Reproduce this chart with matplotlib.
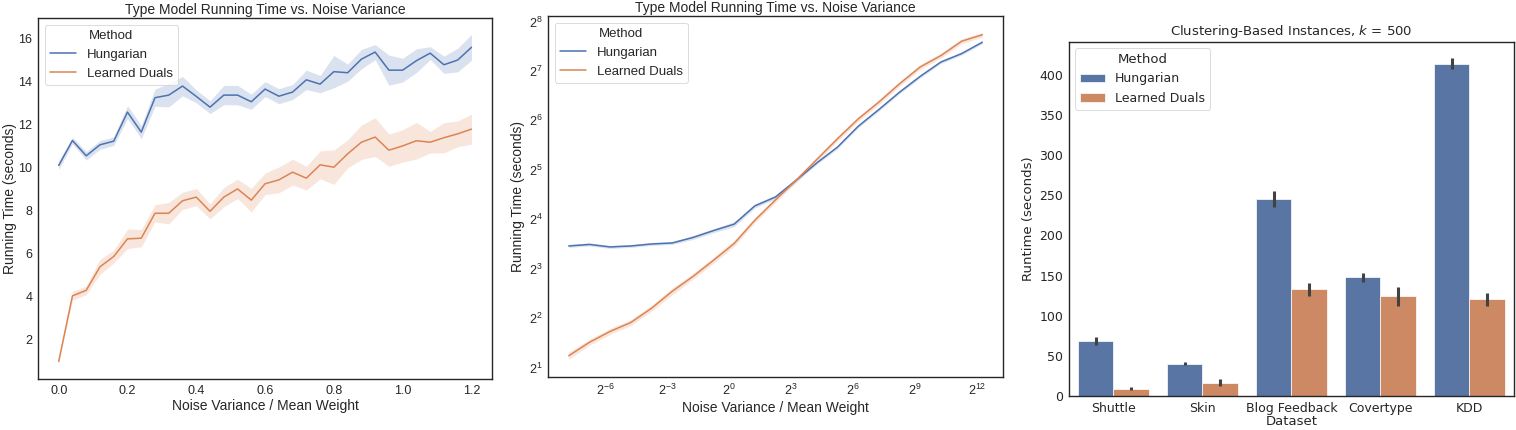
import numpy as np
import matplotlib
matplotlib.use("Agg")
import matplotlib.pyplot as plt
import seaborn as sns

# ---- panel 1: linear noise sweep ----
noise_lin = [0.00, 0.04, 0.08, 0.12, 0.16, 0.20, 0.24, 0.28, 0.32, 0.36, 0.40,
             0.44, 0.48, 0.52, 0.56, 0.60, 0.64, 0.68, 0.72, 0.76, 0.80, 0.84,
             0.88, 0.92, 0.96, 1.00, 1.04, 1.08, 1.12, 1.16, 1.20]
hung_lin = [10.11, 11.27, 10.56, 11.07, 11.24, 12.59, 11.66, 13.26, 13.38, 13.80, 13.32,
            12.82, 13.38, 13.38, 13.07, 13.66, 13.33, 13.52, 14.09, 13.89, 14.47, 14.42,
            15.05, 15.38, 14.54, 14.54, 14.98, 15.33, 14.79, 15.01, 15.60]
hung_lin_ci = [0.20, 0.15, 0.20, 0.20, 0.20, 0.30, 0.30, 0.40, 0.55, 0.45, 0.30,
               0.30, 0.45, 0.45, 0.35, 0.35, 0.35, 0.35, 0.45, 0.40, 0.75, 0.40,
               0.45, 0.35, 0.70, 0.55, 0.55, 0.30, 0.40, 0.55, 0.60]
dual_lin = [1.00, 4.05, 4.31, 5.40, 5.88, 6.70, 6.73, 7.89, 7.89, 8.47, 8.64,
            7.98, 8.64, 9.02, 8.50, 9.26, 9.44, 9.80, 9.52, 10.14, 10.03, 10.65,
            11.19, 11.43, 10.82, 11.02, 11.26, 11.19, 11.40, 11.58, 11.80]
dual_lin_ci = [0.05, 0.20, 0.20, 0.35, 0.30, 0.45, 0.40, 0.40, 0.50, 0.40, 0.40,
               0.35, 0.45, 0.45, 0.55, 0.50, 0.60, 0.60, 0.55, 0.65, 0.80, 0.65,
               0.80, 0.90, 0.75, 0.75, 0.85, 0.50, 0.70, 0.60, 0.70]

# ---- panel 2: log noise sweep (x as log2 exponents) ----
noise_log_exp = [-7.75, -6.75, -5.75, -4.75, -3.75, -2.75, -1.75, -0.75, 0.25, 1.25, 2.25,
                 3.25, 4.25, 5.25, 6.25, 7.25, 8.25, 9.25, 10.25, 11.25, 12.25]
hung_log = [11.0, 11.24, 10.85, 11.0, 11.31, 11.47, 12.38, 13.64, 14.93, 19.29, 21.86,
            27.66, 35.26, 44.0, 58.9, 74.5, 95.0, 118.6, 145.0, 163.1, 191.3]
dual_log = [2.36, 2.85, 3.32, 3.76, 4.59, 5.82, 7.16, 9.0, 11.39, 15.78, 20.97,
            27.66, 37.0, 49.5, 65.3, 82.7, 106.9, 135.3, 158.7, 194.0, 212.3]
hung_log_ci = [0.03, 0.03, 0.03, 0.03, 0.03, 0.03, 0.04, 0.04, 0.05, 0.04, 0.04,
               0.03, 0.03, 0.03, 0.03, 0.03, 0.03, 0.03, 0.03, 0.03, 0.03]
dual_log_ci = [0.07, 0.06, 0.06, 0.06, 0.06, 0.07, 0.06, 0.06, 0.06, 0.05, 0.05,
               0.05, 0.05, 0.05, 0.05, 0.05, 0.05, 0.05, 0.05, 0.05, 0.05]

# ---- panel 3: clustering instances ----
datasets = ["Shuttle", "Skin", "Blog Feedback", "Covertype", "KDD"]
hung_bar = [69.1, 40.4, 245.2, 147.8, 413.8]
hung_err = [5, 2, 10, 6, 7]
dual_bar = [9.2, 16.7, 132.8, 124.1, 120.3]
dual_err = [2, 4, 8, 12, 8]

methods = ["Hungarian", "Learned Duals"]

sns.set_style("white")
plt.rcParams["axes.edgecolor"] = ".15"
plt.rcParams["text.color"] = ".15"
plt.rcParams["axes.labelcolor"] = ".15"
plt.rcParams["xtick.color"] = ".15"
plt.rcParams["ytick.color"] = ".15"

blue, orange = sns.color_palette("deep")[0], sns.color_palette("deep")[1]
arial = ["Liberation Sans", "DejaVu Sans"]

fig = plt.figure(figsize=(15.16, 4.30), dpi=100)
ax1 = fig.add_axes([0.0251, 0.1186, 0.2995, 0.8395])
ax2 = fig.add_axes([0.3615, 0.1233, 0.3001, 0.8395])
ax3 = fig.add_axes([0.7051, 0.0791, 0.2935, 0.8233])

# panel 1
x1 = np.array(noise_lin)
for y, ci, c, name in [(hung_lin, hung_lin_ci, blue, methods[0]),
                       (dual_lin, dual_lin_ci, orange, methods[1])]:
    y = np.array(y)
    ci = np.array(ci)
    ax1.fill_between(x1, y - ci, y + ci, color=c, alpha=0.2, lw=0)
    ax1.plot(x1, y, color=c, lw=1.1, label=name)
ax1.set_xticks([0.0, 0.2, 0.4, 0.6, 0.8, 1.0, 1.2])
ax1.set_xticklabels(["0.0", "0.2", "0.4", "0.6", "0.8", "1.0", "1.2"])
ax1.set_yticks([2, 4, 6, 8, 10, 12, 14, 16])
ax1.set_title("Type Model Running Time vs. Noise Variance", family=arial, fontsize=10, pad=3)
ax1.set_xlabel("Noise Variance / Mean Weight", family=arial, fontsize=10, labelpad=2)
ax1.set_ylabel("Running Time (seconds)", family=arial, fontsize=10, labelpad=1)

# panel 2
x2 = 2.0 ** np.array(noise_log_exp)
for y, ci, c, name in [(hung_log, hung_log_ci, blue, methods[0]),
                       (dual_log, dual_log_ci, orange, methods[1])]:
    y = np.array(y)
    ci = np.array(ci)
    ax2.fill_between(x2, y * 2.0 ** (-ci), y * 2.0 ** ci, color=c, alpha=0.2, lw=0)
    ax2.plot(x2, y, color=c, lw=1.1, label=name)
ax2.set_xscale("log", base=2)
ax2.set_yscale("log", base=2)
ax2.set_xticks([2.0 ** k for k in [-6, -3, 0, 3, 6, 9, 12]])
ax2.set_yticks([2.0 ** k for k in range(1, 9)])
ax2.minorticks_off()
ax2.set_ylim(2 ** 0.81, 2 ** 8.11)
ax2.set_title("Type Model Running Time vs. Noise Variance", family=arial, fontsize=10, pad=3)
ax2.set_xlabel("Noise Variance / Mean Weight", family=arial, fontsize=10, labelpad=2)
ax2.set_ylabel("Running Time (seconds)", family=arial, fontsize=10, labelpad=3)

for ax in (ax1, ax2):
    ax.tick_params(length=0, labelsize=9, pad=4)
    for lab in ax.get_xticklabels() + ax.get_yticklabels():
        lab.set_family(arial)
    for sp in ax.spines.values():
        sp.set_linewidth(1.0)
    leg = ax.legend(title="Method", loc="upper left", prop={"family": arial, "size": 9.5},
                    title_fontproperties={"family": arial, "size": 9.5},
                    handlelength=2.0, borderaxespad=0.5)
    leg.get_frame().set_linewidth(0.6)

# panel 3
pos = np.arange(len(datasets))
w = 0.4
hb = sns.desaturate(blue, 0.75)
ob = sns.desaturate(orange, 0.75)
ax3.bar(pos - w / 2, hung_bar, width=w, color=hb, edgecolor="white", lw=0.5, label=methods[0])
ax3.bar(pos + w / 2, dual_bar, width=w, color=ob, edgecolor="white", lw=0.5, label=methods[1])
ax3.errorbar(pos - w / 2, hung_bar, yerr=hung_err, fmt="none", ecolor=".26", elinewidth=2.2)
ax3.errorbar(pos + w / 2, dual_bar, yerr=dual_err, fmt="none", ecolor=".26", elinewidth=2.2)
ax3.set_xticks(pos)
ax3.set_xticklabels(datasets)
ax3.set_xlim(-0.5, 4.5)
ax3.set_ylim(0, 441)
ax3.set_yticks([0, 50, 100, 150, 200, 250, 300, 350, 400])
ax3.tick_params(length=0, labelsize=9, pad=4)
ax3.set_title("Clustering-Based Instances, $k$ = 500", fontsize=9.5, pad=5)
ax3.set_xlabel("Dataset", fontsize=9.5, labelpad=0)
ax3.set_ylabel("Runtime (seconds)", fontsize=9.5, labelpad=3)
for sp in ax3.spines.values():
    sp.set_linewidth(1.0)
leg3 = ax3.legend(title="Method", loc="upper left", fontsize=9, title_fontsize=9.5,
                  borderaxespad=0.5)
leg3.get_frame().set_linewidth(0.6)

fig.savefig("out.png", dpi=100)
